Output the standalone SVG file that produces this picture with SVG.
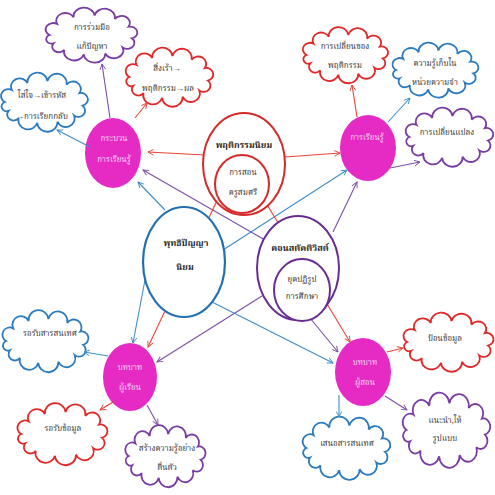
<svg xmlns="http://www.w3.org/2000/svg" xmlns:xlink="http://www.w3.org/1999/xlink" width="495" height="495" viewBox="0 0 495 495">
<style>
.t{font-family:"Noto Serif Thai","Noto Sans Thai Looped","Noto Sans Thai","Loma","Garuda","Tahoma","Noto Sans",sans-serif;font-stretch:condensed;font-size:8px;fill:#333;text-anchor:middle}
.b{font-weight:bold;font-size:9px;fill:#222}
.w{fill:#F8DDF3}
.cr{fill:#fff;stroke:#E02828;stroke-width:1.8}
.cb{fill:#fff;stroke:#2A7BBF;stroke-width:1.8}
.cp{fill:#fff;stroke:#7A3BA3;stroke-width:1.8}
.pink{fill:#E62BC4}
.lr{stroke:#E6453A;stroke-width:1.1;fill:none;marker-end:url(#ar)}
.lb{stroke:#3E8DC8;stroke-width:1.1;fill:none;marker-end:url(#ab)}
.lp{stroke:#7B4FA8;stroke-width:1.1;fill:none;marker-end:url(#ap)}
</style>
<defs>
<path id="cloud" vector-effect="non-scaling-stroke" d="M-37,0 A1 1 0 0 1 -30.3,-12 A1 1 0 0 1 -15.6,-19 A1 1 0 0 1 3.2,-20.9 A1 1 0 0 1 21.2,-17.2 A1 1 0 0 1 33.5,-8.9 A1 1 0 0 1 36.4,3.6 A1 1 0 0 1 28.3,13.5 A1 1 0 0 1 12.7,19.7 A1 1 0 0 1 -6.4,20.7 A1 1 0 0 1 -23.8,16.1 A1 1 0 0 1 -33.5,8.9 A1 1 0 0 1 -37,0 Z"/>
<marker id="ar" viewBox="0 0 10 10" refX="9" refY="5" markerWidth="7" markerHeight="7" markerUnits="userSpaceOnUse" orient="auto"><path d="M1,1 L9,5 L1,9" fill="none" stroke="#E6453A" stroke-width="1.3"/></marker>
<marker id="ab" viewBox="0 0 10 10" refX="9" refY="5" markerWidth="7" markerHeight="7" markerUnits="userSpaceOnUse" orient="auto"><path d="M1,1 L9,5 L1,9" fill="none" stroke="#3E8DC8" stroke-width="1.3"/></marker>
<marker id="ap" viewBox="0 0 10 10" refX="9" refY="5" markerWidth="7" markerHeight="7" markerUnits="userSpaceOnUse" orient="auto"><path d="M1,1 L9,5 L1,9" fill="none" stroke="#7B4FA8" stroke-width="1.3"/></marker>
</defs>
<rect width="495" height="495" fill="#fff"/>

<g id="cloud-cooperate"><use href="#cloud" class="cp" transform="translate(91,35) scale(1.12,0.93)"/><text class="t" x="92" y="30">การร่วมมือ</text><text class="t" x="92" y="49">แก้ปัญหา</text></g>
<g id="cloud-encode"><use href="#cloud" class="cb" transform="translate(44,102) scale(1.06,1)"/><text class="t" x="42" y="98">ใส่ใจ→เข้ารหัส</text><text class="t" x="42" y="119">→การเรียกกลับ</text></g>
<g id="cloud-stimulus"><use href="#cloud" class="cr" transform="translate(169,77) scale(1.07,1)"/><text class="t" x="167" y="71">สิ่งเร้า→</text><text class="t" x="168" y="91">พฤติกรรม→ผล</text></g>
<g id="cloud-behavior-change"><use href="#cloud" class="cr" transform="translate(345,55) scale(1.04,0.95)"/><text class="t" x="345" y="49">การเปลี่ยนของ</text><text class="t" x="345" y="68">พฤติกรรม</text></g>
<g id="cloud-memory"><use href="#cloud" class="cb" transform="translate(435,70) scale(1.05,0.93)"/><text class="t" x="435" y="66">ความรู้เก็บใน</text><text class="t" x="435" y="85">หน่วยความจำ</text></g>
<g id="cloud-change"><use href="#cloud" class="cp" transform="translate(449,137) scale(1.07,1)"/><text class="t" x="447" y="135">การเปลี่ยนแปลง</text></g>
<g id="cloud-wait-info"><use href="#cloud" class="cb" transform="translate(45,341) scale(1.05,1.05)"/><text class="t" x="50" y="336">รอรับสารสนเทศ</text></g>
<g id="cloud-wait-data"><use href="#cloud" class="cr" transform="translate(62,434) scale(1.1,1.05)"/><text class="t" x="63" y="431">รอรับข้อมูล</text></g>
<g id="cloud-active"><use href="#cloud" class="cp" transform="translate(165,456) scale(0.98,1.05)"/><text class="t" x="167" y="451">สร้างความรู้อย่าง</text><text class="t" x="167" y="470">ตื่นตัว</text></g>
<g id="cloud-feed"><use href="#cloud" class="cr" transform="translate(448,342) scale(1.1,1)"/><text class="t" x="445" y="341">ป้อนข้อมูล</text></g>
<g id="cloud-guide"><use href="#cloud" class="cp" transform="translate(446,430) scale(1.07,1.27)"/><text class="t" x="445" y="423">แนะนำ,ให้</text><text class="t" x="445" y="441">รูปแบบ</text></g>
<g id="cloud-present"><use href="#cloud" class="cb" transform="translate(346,448) scale(1.07,1.07)"/><text class="t" x="347" y="446">เสนอสารสนเทศ</text></g>

<g id="learning-process"><ellipse class="pink" cx="113" cy="153" rx="28" ry="35"/><text class="t w" x="114" y="141">กระบวน</text><text class="t w" x="114" y="162">การเรียนรู้</text></g>
<g id="learning"><ellipse class="pink" cx="368" cy="148" rx="28" ry="33"/><text class="t w" x="367" y="140">การเรียนรู้</text></g>
<g id="learner-role"><ellipse class="pink" cx="130" cy="377" rx="27" ry="34"/><text class="t w" x="130" y="370">บทบาท</text><text class="t w" x="130" y="390">ผู้เรียน</text></g>
<g id="teacher-role"><ellipse class="pink" cx="363" cy="372" rx="28" ry="34"/><text class="t w" x="365" y="365">บทบาท</text><text class="t w" x="365" y="385">ผู้สอน</text></g>

<g id="connectors">
<path class="lp" d="M110,118 L102,64"/>
<path class="lp" d="M265,240 L143,170"/>
<path class="lp" d="M333,232 L357,182"/>
<path class="lp" d="M390,168 L420,162"/>
<path class="lp" d="M262,296 L157,362"/>
<path class="lp" d="M147,405 L158,425"/>
<path class="lp" d="M310,318 L338,352"/>
<path class="lp" d="M385,396 L407,410"/>
<path class="lb" d="M90,147 L57,130"/>
<path class="lb" d="M165,210 L138,182"/>
<path class="lb" d="M223,250 L347,170"/>
<path class="lb" d="M388,122 L410,98"/>
<path class="lb" d="M145,280 L133,343"/>
<path class="lb" d="M108,356 L84,352"/>
<path class="lb" d="M212,302 L333,363"/>
<path class="lb" d="M339,395 L339,417"/>
<path class="lr" d="M135,118 L147,103"/>
<path class="lr" d="M205,155 L148,152"/>
<path class="lr" d="M285,157 L340,153"/>
<path class="lr" d="M357,117 L352,85"/>
<path class="lr" d="M222,190 L148,347"/>
<path class="lr" d="M113,402 L100,410"/>
<path class="lr" d="M260,193 L350,342"/>
<path class="lr" d="M387,352 L403,348"/>
</g>

<g id="behaviorism"><ellipse cx="244" cy="164" rx="41" ry="51" fill="#fff" stroke="#D42A2A" stroke-width="2"/><ellipse cx="242" cy="184" rx="27" ry="29" fill="#fff" stroke="#D42A2A" stroke-width="2"/><text class="t b" x="244" y="148">พฤติกรรมนิยม</text><text class="t" x="243" y="175">การสอน</text><text class="t" x="243" y="195">ครูสมศรี</text></g>
<g id="cognitivism"><ellipse cx="184" cy="262" rx="41" ry="55" fill="#fff" stroke="#2370B0" stroke-width="2.2"/><text class="t b" x="186" y="246">พุทธิปัญญา</text><text class="t b" x="185" y="270">นิยม</text></g>
<g id="constructivism"><ellipse cx="298" cy="268" rx="41" ry="52" fill="#fff" stroke="#6A2C91" stroke-width="2"/><ellipse cx="302" cy="290" rx="28" ry="31" fill="#fff" stroke="#6A2C91" stroke-width="2"/><text class="t b" x="300" y="251">คอนสตัคติวิสต์</text><text class="t" x="302" y="282">ยุคปฏิรูป</text><text class="t" x="302" y="299">การศึกษา</text></g>
</svg>
